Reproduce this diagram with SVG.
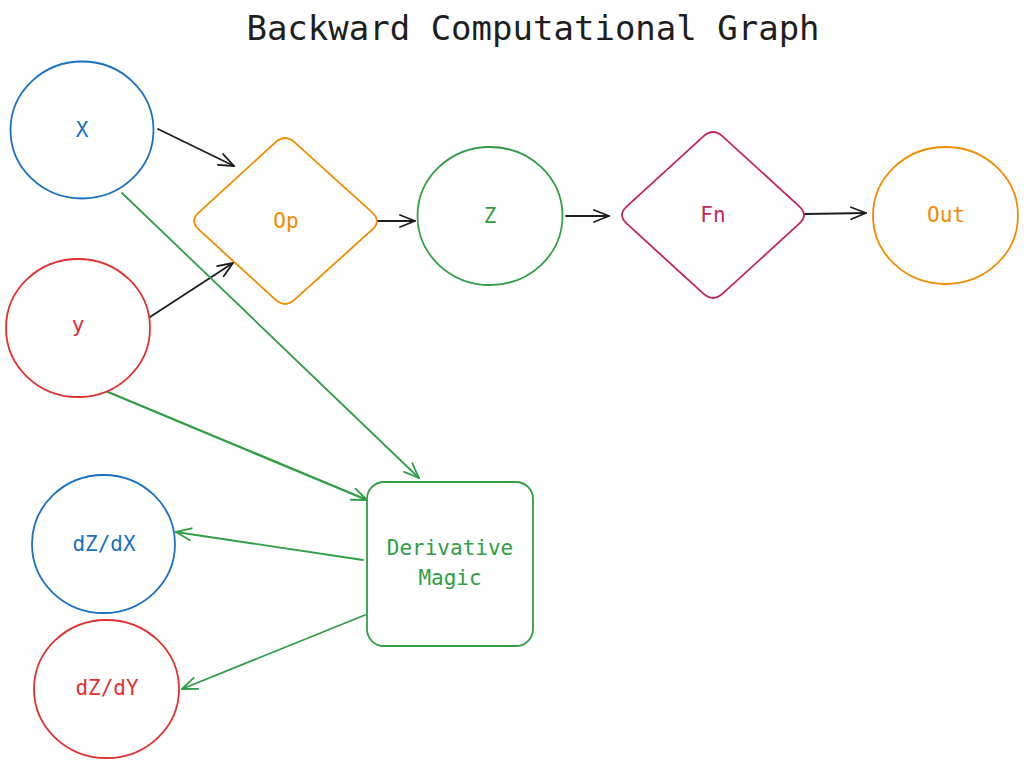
<svg xmlns="http://www.w3.org/2000/svg" width="1024" height="765" viewBox="0 0 1024 765">
  <style>
    text { font-family: "DejaVu Sans Mono", "Liberation Mono", monospace; text-anchor: middle; dominant-baseline: central; }
    .title { font-size: 34px; fill: #1e1e1e; }
    .lbl { font-size: 21px; }
    .shape { fill: none; stroke-width: 1.8; stroke-linejoin: round; }
    .blue { stroke: #1971c2; } .tblue { fill: #1971c2; }
    .red { stroke: #e03131; } .tred { fill: #e03131; }
    .orange { stroke: #f08c00; } .torange { fill: #f08c00; }
    .green { stroke: #2f9e44; } .tgreen { fill: #2f9e44; }
    .crimson { stroke: #c2255c; } .tcrimson { fill: #c2255c; }
    .arrow { fill: none; stroke-width: 1.8; stroke-linecap: round; }
    .ablack { stroke: #1e1e1e; marker-end: url(#headBlack); }
    .agreen { stroke: #2f9e44; marker-end: url(#headGreen); }
  </style>
  <defs>
    <marker id="headBlack" markerUnits="userSpaceOnUse" viewBox="-18 -10 22 20" refX="0" refY="0" markerWidth="22" markerHeight="20" orient="auto">
      <path d="M -15 -6 L 0 0 L -15 6" fill="none" stroke="#1e1e1e" stroke-width="1.8" stroke-linecap="round" stroke-linejoin="round"/>
    </marker>
    <marker id="headGreen" markerUnits="userSpaceOnUse" viewBox="-18 -10 22 20" refX="0" refY="0" markerWidth="22" markerHeight="20" orient="auto">
      <path d="M -15 -6 L 0 0 L -15 6" fill="none" stroke="#2f9e44" stroke-width="1.8" stroke-linecap="round" stroke-linejoin="round"/>
    </marker>
  </defs>
  <rect width="1024" height="765" fill="#ffffff"/>

  <text class="title" x="533" y="28">Backward Computational Graph</text>

  <g id="connectors">
    <line class="arrow ablack" x1="158" y1="129" x2="234" y2="166"/>
    <line class="arrow ablack" x1="150" y1="317" x2="233" y2="263"/>
    <line class="arrow ablack" x1="377" y1="221" x2="415" y2="221"/>
    <line class="arrow ablack" x1="566" y1="216" x2="609" y2="216"/>
    <line class="arrow ablack" x1="805" y1="214" x2="866" y2="213"/>
    <line class="arrow agreen" x1="122" y1="193" x2="419" y2="478"/>
    <line class="arrow agreen" x1="108" y1="392" x2="367" y2="500" style="stroke-width:2.4"/>
    <line class="arrow agreen" x1="363" y1="560" x2="176" y2="532"/>
    <line class="arrow agreen" x1="365" y1="615" x2="182" y2="689"/>
  </g>

  <g id="node-x">
    <ellipse class="shape blue" cx="82" cy="130" rx="71.5" ry="68.5"/>
    <text class="lbl tblue" x="82" y="130">X</text>
  </g>
  <g id="node-y">
    <ellipse class="shape red" cx="78" cy="328" rx="72" ry="69"/>
    <text class="lbl tred" x="78" y="325">y</text>
  </g>
  <g id="node-op">
    <path class="shape orange" d="M 294.6 142.4 L 372.1 212.3 Q 381.75 221 372.1 229.7 L 294.6 299.6 Q 285 308.35 275.4 299.6 L 198.9 229.7 Q 189.25 221 198.9 212.3 L 275.4 142.4 Q 285 133.65 294.6 142.4 Z"/>
    <text class="lbl torange" x="286" y="221">Op</text>
  </g>
  <g id="node-z">
    <ellipse class="shape green" cx="490" cy="216" rx="72.5" ry="69"/>
    <text class="lbl tgreen" x="490" y="216">Z</text>
  </g>
  <g id="node-fn">
    <path class="shape crimson" d="M 722.6 136.3 L 799.2 206.3 Q 808.8 215 799.2 223.7 L 722.6 293.7 Q 713 302.4 703.4 293.7 L 626.8 223.7 Q 617.2 215 626.8 206.3 L 703.4 136.3 Q 713 127.6 722.6 136.3 Z"/>
    <text class="lbl tcrimson" x="713" y="215">Fn</text>
  </g>
  <g id="node-out">
    <ellipse class="shape orange" cx="945.5" cy="215.5" rx="72.5" ry="68.5"/>
    <text class="lbl torange" x="946" y="215">Out</text>
  </g>
  <g id="node-derivative">
    <rect class="shape green" x="367" y="482" width="166" height="164" rx="17" ry="17"/>
    <text class="lbl tgreen" x="450" y="548">Derivative</text>
    <text class="lbl tgreen" x="450" y="578">Magic</text>
  </g>
  <g id="node-dzdx">
    <ellipse class="shape blue" cx="103.5" cy="544" rx="71.5" ry="69"/>
    <text class="lbl tblue" x="104" y="544">dZ/dX</text>
  </g>
  <g id="node-dzdy">
    <ellipse class="shape red" cx="106.5" cy="689" rx="72.5" ry="69"/>
    <text class="lbl tred" x="107" y="688">dZ/dY</text>
  </g>
</svg>
